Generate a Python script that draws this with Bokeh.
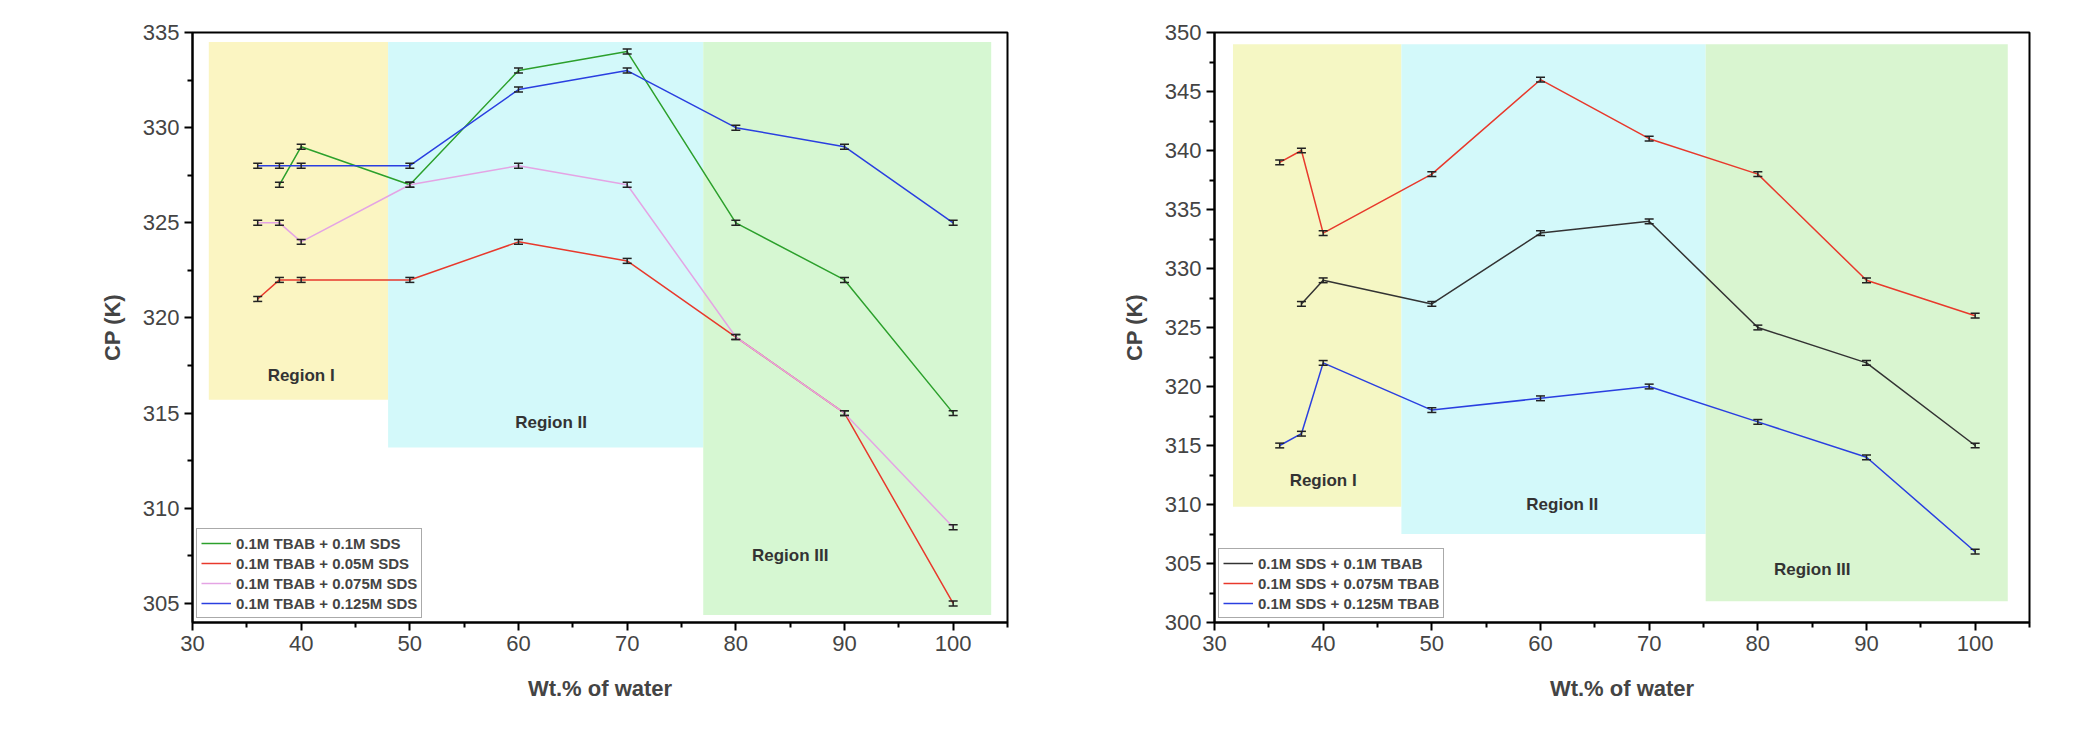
from bokeh.plotting import figure
from bokeh.models import Label, Legend, LegendItem, FixedTicker
from bokeh.layouts import row
from bokeh.embed import file_html
from bokeh.resources import INLINE

x_all = [36, 38, 40, 50, 60, 70, 80, 90, 100]
x_no36 = [38, 40, 50, 60, 70, 80, 90, 100]
a_green = [327, 329, 327, 333, 334, 325, 322, 315]
a_red = [321, 322, 322, 322, 324, 323, 319, 315, 305]
a_pink = [325, 325, 324, 327, 328, 327, 319, 315, 309]
a_blue = [328, 328, 328, 328, 332, 333, 330, 329, 325]
b_black = [327, 329, 327, 333, 334, 325, 322, 315]
b_red = [339, 340, 333, 338, 346, 341, 338, 329, 326]
b_blue = [315, 316, 322, 318, 319, 320, 317, 314, 306]
a_labels = ["0.1M TBAB + 0.1M SDS", "0.1M TBAB + 0.05M SDS", "0.1M TBAB + 0.075M SDS", "0.1M TBAB + 0.125M SDS"]
b_labels = ["0.1M SDS + 0.1M TBAB", "0.1M SDS + 0.075M TBAB", "0.1M SDS + 0.125M TBAB"]
FONT = "Liberation Sans"


def make(yr, fh, bl, bt, regions, rlabels, series, labels, tag, tagx, yticks, err):
    p = figure(width=1036, height=712, x_range=(30, 105), y_range=yr,
               frame_width=815, frame_height=fh, min_border_left=bl, min_border_top=bt,
               min_border_right=10, min_border_bottom=90, output_backend="svg", toolbar_location=None)
    p.background_fill_color = "white"
    p.outline_line_color = "black"
    p.outline_line_width = 2
    p.xgrid.visible = False
    p.ygrid.visible = False
    for (x0, x1, y0, y1, c) in regions:
        p.quad(left=x0, right=x1, bottom=y0, top=y1, fill_color=c, line_color=None, fill_alpha=1)
    for (tx, ty, t) in rlabels:
        p.text(x=[tx], y=[ty], text=[t], text_align="center", text_baseline="middle",
               text_font_size="17px", text_font_style="bold", text_color="#333333",
               text_font={"value": FONT})
    items = []
    for (xs, ys, c), lab in zip(series, labels):
        r = p.line(xs, ys, line_color=c, line_width=1.5)
        lo = [v - err for v in ys]
        hi = [v + err for v in ys]
        p.segment(x0=xs, y0=lo, x1=xs, y1=hi, line_color="#222222", line_width=1.5)
        p.scatter(xs, lo, marker="dash", size=9, line_color="#222222", line_width=1.5)
        p.scatter(xs, hi, marker="dash", size=9, line_color="#222222", line_width=1.5)
        items.append(LegendItem(label=lab, renderers=[r]))
    leg = Legend(items=items, location="bottom_left", label_text_font=FONT,
                 label_text_font_size="15px", label_text_font_style="bold",
                 border_line_color="#555555", background_fill_alpha=0.9,
                 spacing=0, padding=4, margin=4, glyph_width=30, label_height=16)
    p.add_layout(leg)
    p.xaxis.axis_label = "Wt.% of water"
    p.yaxis.axis_label = "CP (K)"
    for ax in (p.xaxis[0], p.yaxis[0]):
        ax.axis_label_text_font = FONT
        ax.axis_label_text_font_size = "22px"
        ax.axis_label_text_font_style = "bold"
        ax.major_label_text_font = FONT
        ax.major_label_text_font_size = "22px"
        ax.axis_line_width = 2
        ax.major_tick_line_width = 2
        ax.major_tick_out = 8
        ax.major_tick_in = 0
        ax.minor_tick_out = 5
        ax.minor_tick_in = 0
        ax.minor_tick_line_width = 2
    p.xaxis.ticker = FixedTicker(ticks=[30, 40, 50, 60, 70, 80, 90, 100],
                                 minor_ticks=[35, 45, 55, 65, 75, 85, 95, 105])
    p.yaxis.ticker = FixedTicker(ticks=yticks, minor_ticks=[t + 2.5 for t in yticks])
    p.xaxis.axis_label_standoff = 22
    p.yaxis.axis_label_standoff = 15
    p.add_layout(Label(x=tagx, y=688, x_units="screen", y_units="screen", text=tag,
                       text_font=FONT, text_font_size="18px", text_font_style="bold"))
    return p


pa = make((304, 335), 590, 192, 32,
          [(31.5, 48, 315.7, 334.5, "#fbf5c2"), (48, 77, 313.2, 334.5, "#d3f9fa"),
           (77, 103.5, 304.4, 334.5, "#d6f7d2")],
          [(40, 317, "Region I"), (63, 314.5, "Region II"), (85, 307.5, "Region III")],
          [(x_no36, a_green, "#2ca02c"), (x_all, a_red, "#e8392c"),
           (x_all, a_pink, "#e4a4e4"), (x_all, a_blue, "#2a3fe0")],
          a_labels, "(a)", 65, [305, 310, 315, 320, 325, 330, 335], 0.13)

pb = make((300, 350), 590, 197, 32,
          [(31.7, 47.2, 309.8, 349, "#f5f7c4"), (47.2, 75.2, 307.5, 349, "#d3f9fa"),
           (75.2, 103, 301.8, 349, "#d9f5d0")],
          [(40, 312, "Region I"), (62, 310, "Region II"), (85, 304.5, "Region III")],
          [(x_no36, b_black, "#333333"), (x_all, b_red, "#e8392c"), (x_all, b_blue, "#2a3fe0")],
          b_labels, "(b)", 115, [300, 305, 310, 315, 320, 325, 330, 335, 340, 345, 350], 0.2)

open("out.html", "w").write(file_html(row(pa, pb, spacing=0), INLINE))
